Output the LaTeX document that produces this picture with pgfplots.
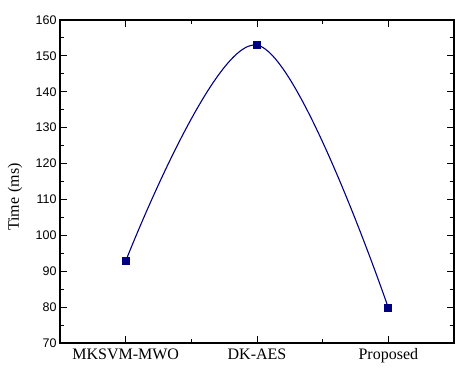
\documentclass[border=0pt]{standalone}
\usepackage{pgfplots}
\pgfplotsset{compat=1.18}
\usepackage{fontspec}
\setmainfont{Liberation Serif}
\newfontfamily\arial{Liberation Sans}
\definecolor{navy}{RGB}{0,0,128}
\begin{document}
\begin{tikzpicture}
\begin{axis}[
  scale only axis,
  width=394pt, height=323pt,
  xmin=-0.5, xmax=2.5,
  ymin=70, ymax=160,
  xtick={0,1,2},
  xticklabels={MKSVM-MWO,DK-AES,Proposed},
  minor xtick={0.5,1.5},
  ytick={70,80,...,160},
  minor ytick={75,85,...,155},
  tick align=inside,
  major tick length=7pt,
  minor tick length=4pt,
  tick style={black, line width=0.9pt},
  axis line style={line width=1.2pt},
  xticklabel style={font=\fontsize{16}{18}\selectfont, yshift=-2pt},
  yticklabel style={font=\arial\fontsize{12.5}{14}\selectfont},
  /pgf/number format/assume math mode=true,
  ylabel={Time\,\,(ms)},
  every axis y label/.style={at={(axis description cs:-0.114,0.452)}, rotate=90, anchor=center},
  ylabel style={font=\fontsize{16}{18}\selectfont},
  clip=false,
]
\addplot[navy, line width=1.1pt, smooth, tension=0.6, mark=square*, mark size=3.6pt, mark options={fill=navy, draw=navy}]
  coordinates {(0,92.8) (1,153.0) (2,79.8)};
\end{axis}
\path ([xshift=-60pt,yshift=-36pt]current axis.south west) rectangle ([xshift=20pt,yshift=20pt]current axis.north east);
\end{tikzpicture}
\end{document}
